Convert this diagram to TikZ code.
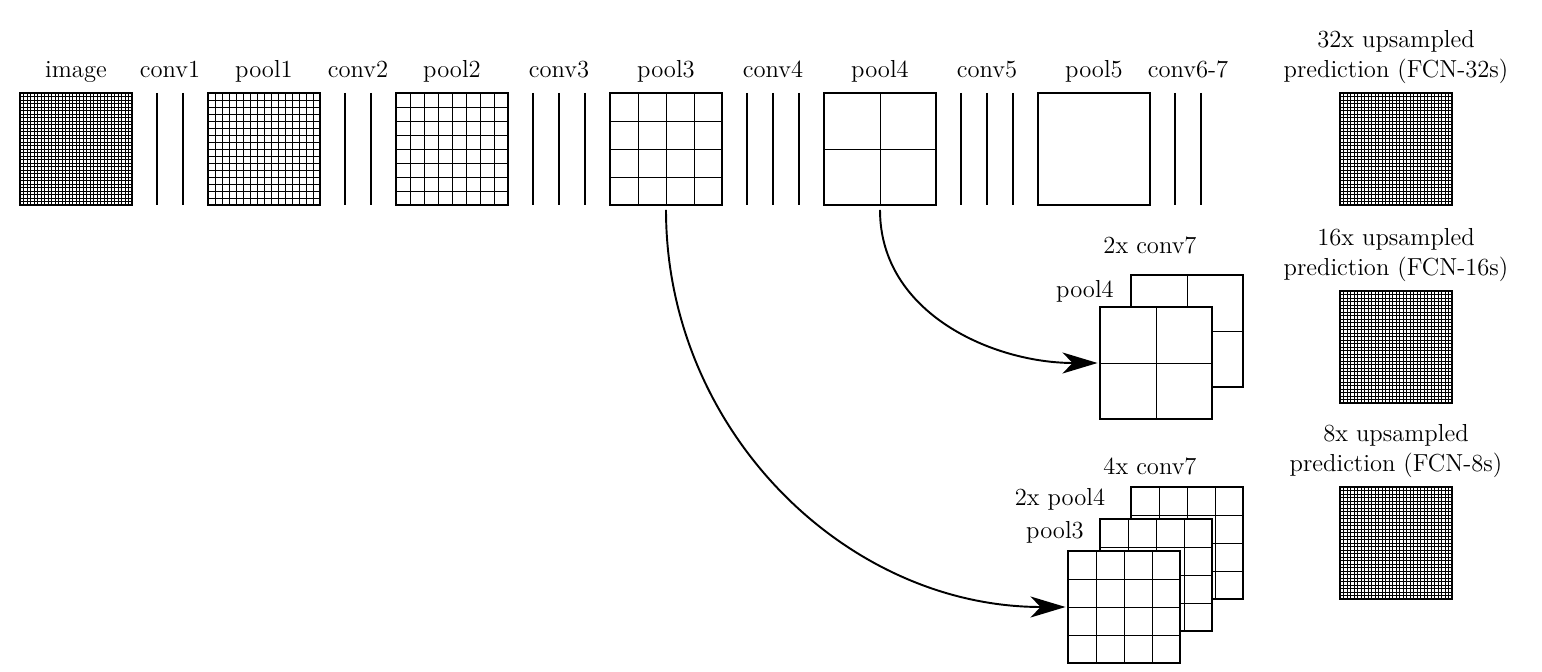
\documentclass[tikz,border=0pt]{standalone}
\usetikzlibrary{arrows.meta}
\tikzset{
  fmap/.style={draw, fill=white, minimum size=2.24cm, inner sep=0pt, outer sep=0pt, line width=0.6pt},
  gridline/.style={line width=0.45pt},
  convline/.style={line width=0.6pt},
  lbl/.style={font=\fontsize{14}{17}\selectfont, align=center},
  skip/.style={-{Stealth[length=0.7cm,width=0.42cm,inset=0.2cm]}, line width=1.1pt}
}
% feature map: name, centre, cells per side
\newcommand{\fmap}[3]{
  \node[fmap] (#1) at (#2) {};
  \begin{scope}[shift={(#1.north west)}]
    \draw[gridline] (0,0) grid[step=2.24cm/#3] (2.24cm,-2.24cm);
  \end{scope}
  \node[fmap, fill=none] at (#2) {};
}
\begin{document}
\begin{tikzpicture}[x=0.02cm, y=-0.02cm]
  \useasboundingbox (0,0) rectangle (1542,672);

  % top row
  \fmap{image}{76,149}{32}
  \fmap{pool1}{264,149}{16}
  \fmap{pool2}{452,149}{8}
  \fmap{pool3}{666,149}{4}
  \fmap{pool4}{880,149}{2}
  \fmap{pool5}{1094,149}{1}
  \foreach \x in {157,183, 345,371, 533,559,585, 747,773,799, 961,987,1013, 1175,1201}
    \draw[convline] (\x,93) -- (\x,205);

  \foreach \x/\t in {76/image, 170/conv1, 264/pool1, 358/conv2, 452/pool2, 559/conv3,
                     666/pool3, 773/conv4, 880/pool4, 987/conv5, 1094/pool5, 1188/conv6-7}
    \node[lbl, anchor=base] (l\t) at (\x,78) {\t};

  % predictions
  \fmap{fcn32}{1396,149}{32}
  \fmap{fcn16}{1396,347}{32}
  \fmap{fcn8}{1396,543}{32}
  \node[lbl, above=2pt] (t32) at (fcn32.north) {32x upsampled\\prediction (FCN-32s)};
  \node[lbl, above=2pt] (t16) at (fcn16.north) {16x upsampled\\prediction (FCN-16s)};
  \node[lbl, above=2pt] (t8) at (fcn8.north) {8x upsampled\\prediction (FCN-8s)};

  % FCN-16s fusion
  \fmap{cA}{1187,331}{2}
  \fmap{pA}{1156,363}{2}
  \node[lbl, anchor=base] (tcA) at (1150,254) {2x conv7};
  \node[lbl, anchor=base] (tpA) at (1085,297) {pool4};

  % FCN-8s fusion
  \fmap{cB}{1187,543}{4}
  \fmap{qB}{1156,575}{4}
  \fmap{pB}{1124,607}{4}
  \node[lbl, anchor=base] (tcB) at (1150,474) {4x conv7};
  \node[lbl, anchor=base] (tqB) at (1060,505) {2x pool4};
  \node[lbl, anchor=base] (tpB) at (1055,538) {pool3};

  % skip connections
  \draw[skip] ([yshift=-0.1cm]pool4.south) to[out=-90, in=180] ([xshift=-0.05cm]pA.west);
  \draw[skip] ([yshift=-0.1cm]pool3.south) to[out=-90, in=180] ([xshift=-0.05cm]pB.west);
\end{tikzpicture}
\end{document}
